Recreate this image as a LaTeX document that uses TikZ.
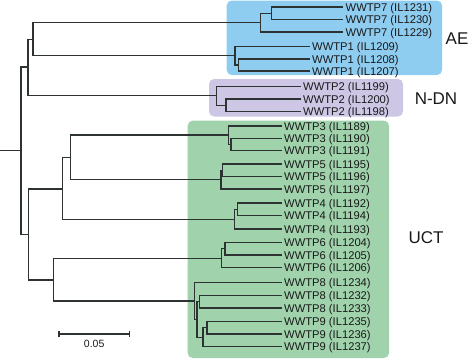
\documentclass[tikz,border=0pt]{standalone}
\usepackage{fontspec}
\setmainfont{Liberation Sans}
\definecolor{aeblue}{RGB}{143,205,240}
\definecolor{ndnlav}{RGB}{205,199,229}
\definecolor{uctgreen}{RGB}{160,211,172}
\definecolor{treecol}{RGB}{45,50,50}
\definecolor{txtcol}{RGB}{25,25,25}
\begin{document}
\begin{tikzpicture}[x=1pt,y=-1pt,
  br/.style={draw=treecol,line width=1.1pt},
  leaf/.style={anchor=west,inner xsep=2.5pt,inner ysep=0pt,text height=8.1pt,text depth=0pt,
    font=\fontsize{11.2}{12}\selectfont,text=txtcol},
  grp/.style={font=\fontsize{17}{19}\selectfont,text=txtcol,inner sep=0pt},
  grpbox/.style={rounded corners=5pt,draw=none}]
\useasboundingbox (0,0) rectangle (474,359);

% group boxes
\fill[grpbox,fill=aeblue] (226.7,0.5) rectangle (442,75);
\fill[grpbox,fill=ndnlav] (209,79) rectangle (403,116.5);
\fill[grpbox,fill=uctgreen] (187.7,120.7) rectangle (389,358);

% internal nodes
\coordinate (stub) at (0,150.5);
\coordinate (root) at (21,150.5);
\coordinate (n1) at (28,67);
\coordinate (n2) at (33,39.3);
\coordinate (w7) at (260.5,22.7);
\coordinate (w7a) at (271.7,13.3);
\coordinate (w1) at (235,55.9);
\coordinate (w1a) at (238.3,65);
\coordinate (w2) at (216.7,95.7);
\coordinate (w2a) at (226,105.2);
\coordinate (n3) at (28.3,234.6);
\coordinate (n4) at (62.3,189);
\coordinate (n5) at (70.7,157.3);
\coordinate (w3) at (228.3,135);
\coordinate (w3a) at (231,144.4);
\coordinate (w5) at (221,179.5);
\coordinate (w5a) at (222.5,170.2);
\coordinate (w4) at (234.3,219.5);
\coordinate (w4a) at (237.7,209.3);
\coordinate (n6) at (53.3,280);
\coordinate (w6) at (221.7,258.3);
\coordinate (w6a) at (225,248.8);
\coordinate (cA) at (194.5,301);
\coordinate (cB) at (197,319.5);
\coordinate (cC) at (199.5,301.8);
\coordinate (cD) at (203,337.2);
\coordinate (cE) at (207,327.8);

% leaves
\node[leaf] (l1231) at (343,7) {WWTP7 (IL1231)};
\node[leaf] (l1230) at (343,19.5) {WWTP7 (IL1230)};
\node[leaf] (l1229) at (343,32) {WWTP7 (IL1229)};
\node[leaf] (l1209) at (309.5,46.5) {WWTP1 (IL1209)};
\node[leaf] (l1208) at (309.5,59) {WWTP1 (IL1208)};
\node[leaf] (l1207) at (309.5,71) {WWTP1 (IL1207)};
\node[leaf] (l1199) at (300.5,86.5) {WWTP2 (IL1199)};
\node[leaf] (l1200) at (300.5,99) {WWTP2 (IL1200)};
\node[leaf] (l1198) at (300.5,111.5) {WWTP2 (IL1198)};
\node[leaf] (l1189) at (281.5,126) {WWTP3 (IL1189)};
\node[leaf] (l1190) at (281.5,138.3) {WWTP3 (IL1190)};
\node[leaf] (l1191) at (281.5,150.5) {WWTP3 (IL1191)};
\node[leaf] (l1195) at (281.5,164) {WWTP5 (IL1195)};
\node[leaf] (l1196) at (281.5,176.5) {WWTP5 (IL1196)};
\node[leaf] (l1197) at (281.5,189) {WWTP5 (IL1197)};
\node[leaf] (l1192) at (281.5,203) {WWTP4 (IL1192)};
\node[leaf] (l1194) at (281.5,215.5) {WWTP4 (IL1194)};
\node[leaf] (l1193) at (281.5,229) {WWTP4 (IL1193)};
\node[leaf] (l1204) at (281.5,242.5) {WWTP6 (IL1204)};
\node[leaf] (l1205) at (281.5,255) {WWTP6 (IL1205)};
\node[leaf] (l1206) at (281.5,267.5) {WWTP6 (IL1206)};
\node[leaf] (l1234) at (281.5,282.5) {WWTP8 (IL1234)};
\node[leaf] (l1232) at (281.5,295.5) {WWTP8 (IL1232)};
\node[leaf] (l1233) at (281.5,308) {WWTP8 (IL1233)};
\node[leaf] (l1235) at (281.5,321.5) {WWTP9 (IL1235)};
\node[leaf] (l1236) at (281.5,334) {WWTP9 (IL1236)};
\node[leaf] (l1237) at (281.5,346.5) {WWTP9 (IL1237)};

% branches
\draw[br] (stub) -- (root);
\foreach \p/\c in {root/n1, root/n3, n1/n2, n1/w2, n2/w7, n2/w1,
  w7/w7a, w7/l1229, w7a/l1231, w7a/l1230,
  w1/l1209, w1/w1a, w1a/l1208, w1a/l1207,
  w2/l1199, w2/w2a, w2a/l1200, w2a/l1198,
  n3/n4, n3/n6, n4/n5, n4/w4, n5/w3, n5/w5,
  w3/l1189, w3/w3a, w3a/l1190, w3a/l1191,
  w5/w5a, w5/l1197, w5a/l1195, w5a/l1196,
  w4/w4a, w4/l1193, w4a/l1192, w4a/l1194,
  n6/w6, n6/cA, w6/w6a, w6/l1206, w6a/l1204, w6a/l1205,
  cA/l1234, cA/cB, cB/cC, cB/cD, cC/l1232, cC/l1233,
  cD/cE, cD/l1237, cE/l1235, cE/l1236}
  \draw[br] (\p) |- (\c);

% group labels
\node[grp] (gAE) at (457,38.3) {AE};
\node[grp] (gNDN) at (436,98.5) {N-DN};
\node[grp] (gUCT) at (426,237.5) {UCT};

% scale bar
\coordinate (sbL) at (59,334);
\coordinate (sbR) at (129.3,334);
\coordinate (sbLt) at (59,330.7);
\coordinate (sbLb) at (59,337.3);
\coordinate (sbRt) at (129.3,330.7);
\coordinate (sbRb) at (129.3,337.3);
\draw[br] (sbL) -- (sbR);
\draw[br] (sbLt) -- (sbLb);
\draw[br] (sbRt) -- (sbRb);
\node[font=\fontsize{10.5}{12}\selectfont,text=txtcol,inner sep=0pt] (sblab) at (94.2,344) {0.05};
\end{tikzpicture}
\end{document}
